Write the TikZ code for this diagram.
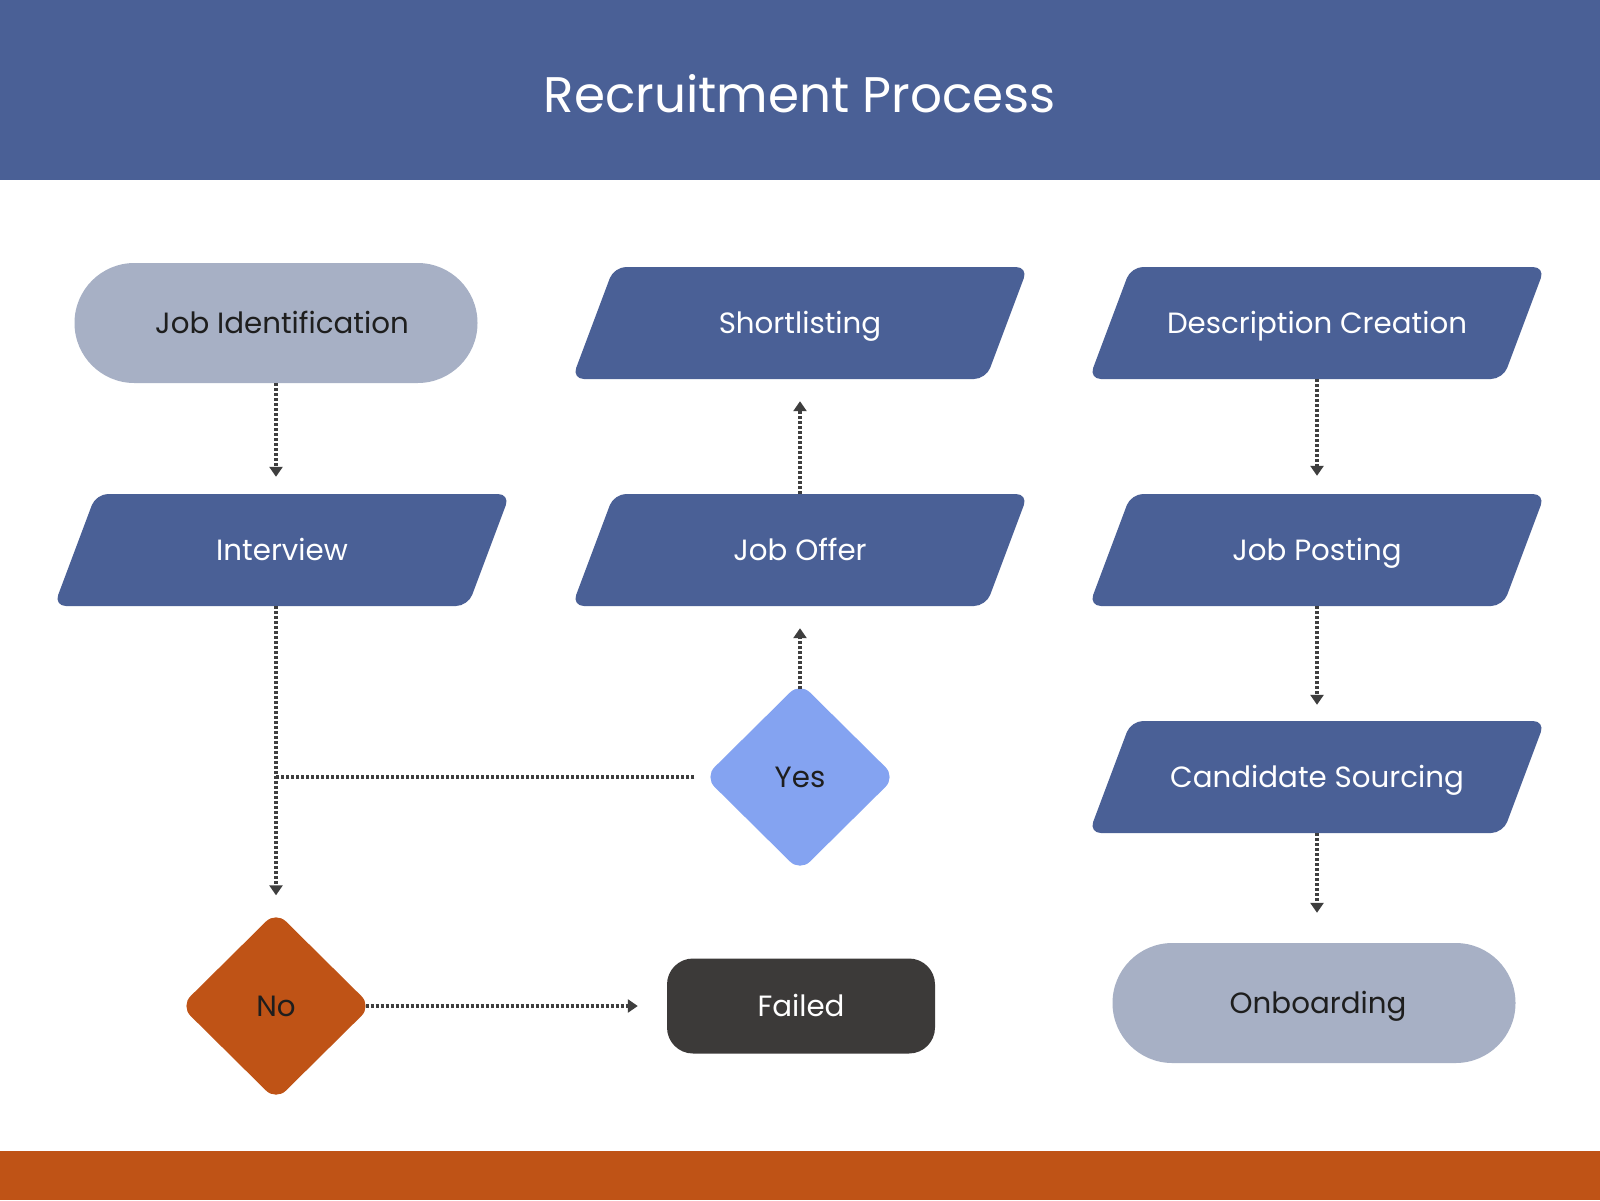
\documentclass[tikz,border=0pt]{standalone}
\usepackage{fontspec}
\setmainfont{Poppins}
\usetikzlibrary{shapes.geometric,arrows.meta}
\definecolor{hdrblue}{HTML}{4A6096}
\definecolor{stadgray}{HTML}{A7B0C5}
\definecolor{yesblue}{HTML}{84A3F1}
\definecolor{noorange}{HTML}{BF5316}
\definecolor{faildark}{HTML}{3C3A39}
\definecolor{conngray}{HTML}{3E3E3E}
\definecolor{textdark}{HTML}{1E1E1E}
\begin{document}
\begin{tikzpicture}[x=1pt,y=-1pt,
  lbl/.style={font=\fontsize{29.3}{35}\selectfont, text height=20.5pt, text depth=0pt},
  parabox/.style={lbl, text=white, minimum width=456pt, minimum height=112pt, inner sep=0pt,
    path picture={\fill[hdrblue, rounded corners=12pt]
      (path picture bounding box.south) -- (path picture bounding box.south west)
      -- ([xshift=42pt]path picture bounding box.north west)
      -- (path picture bounding box.north east)
      -- ([xshift=-42pt]path picture bounding box.south east) -- cycle;}},
  stadium/.style={lbl, text=textdark, fill=stadgray, minimum width=403pt, minimum height=120pt,
    rounded corners=59.9pt, inner sep=0pt},
  dia/.style={lbl, diamond, text=textdark, minimum width=191pt, minimum height=189pt,
    inner sep=0pt, rounded corners=14pt},
  failbox/.style={lbl, text=white, fill=faildark, minimum width=268pt, minimum height=95pt,
    rounded corners=26pt, inner sep=0pt},
  connline/.style={draw=conngray, line width=3.2pt, dash pattern=on 3pt off 2pt},
  conn/.style={connline, -{Triangle[width=13pt,length=10pt]}}
]
\useasboundingbox (0,0) rectangle (1600,1200);
\fill[white] (0,0) rectangle (1600,1200);
\fill[hdrblue] (0,0) rectangle (1600,180);
\fill[noorange] (0,1151) rectangle (1600,1200);
\node[font=\fontsize{50}{60}\selectfont, text=white] (title) at (800,94) {Recruitment Process};

\node[stadium] (jobid) at (276,323) {\hspace*{12pt}Job Identification};
\node[parabox] (short) at (800,323) {Shortlisting};
\node[parabox] (desc) at (1317,323) {Description Creation};
\node[parabox] (interview) at (282,550) {Interview};
\node[parabox] (offer) at (800,550) {Job Offer};
\node[parabox] (posting) at (1317,550) {Job Posting};
\node[dia, fill=yesblue] (yes) at (800,777) {Yes};
\node[parabox] (sourcing) at (1317,777) {Candidate Sourcing};
\node[dia, fill=noorange] (no) at (276,1006) {No};
\node[failbox] (failed) at (801,1006) {Failed};
\node[stadium] (onboard) at (1314,1003) {\hspace*{8pt}Onboarding};

\coordinate (c1) at (jobid.south |- interview.north);
\coordinate (c7) at (interview.south -| no.north);
\coordinate (c8) at (yes.west -| no.north);
\coordinate (c6) at (sourcing.south |- onboard.north);

\draw[conn] (jobid.south) -- ([yshift=17pt]c1);
\draw[conn] (offer.north) -- ([yshift=-22pt]short.south);
\draw[conn] ([yshift=-7pt]yes.north) -- ([yshift=-22pt]offer.south);
\draw[conn] (desc.south) -- ([yshift=18pt]posting.north);
\draw[conn] (posting.south) -- ([yshift=16pt]sourcing.north);
\draw[conn] (sourcing.south) -- ([yshift=30pt]c6);
\draw[conn] (c7) -- ([yshift=16pt]no.north);
\draw[connline] ([xshift=-10pt]yes.west) -- (c8);
\draw[conn] ([xshift=-6pt]no.east) -- ([xshift=-29pt]failed.west);
\end{tikzpicture}
\end{document}
